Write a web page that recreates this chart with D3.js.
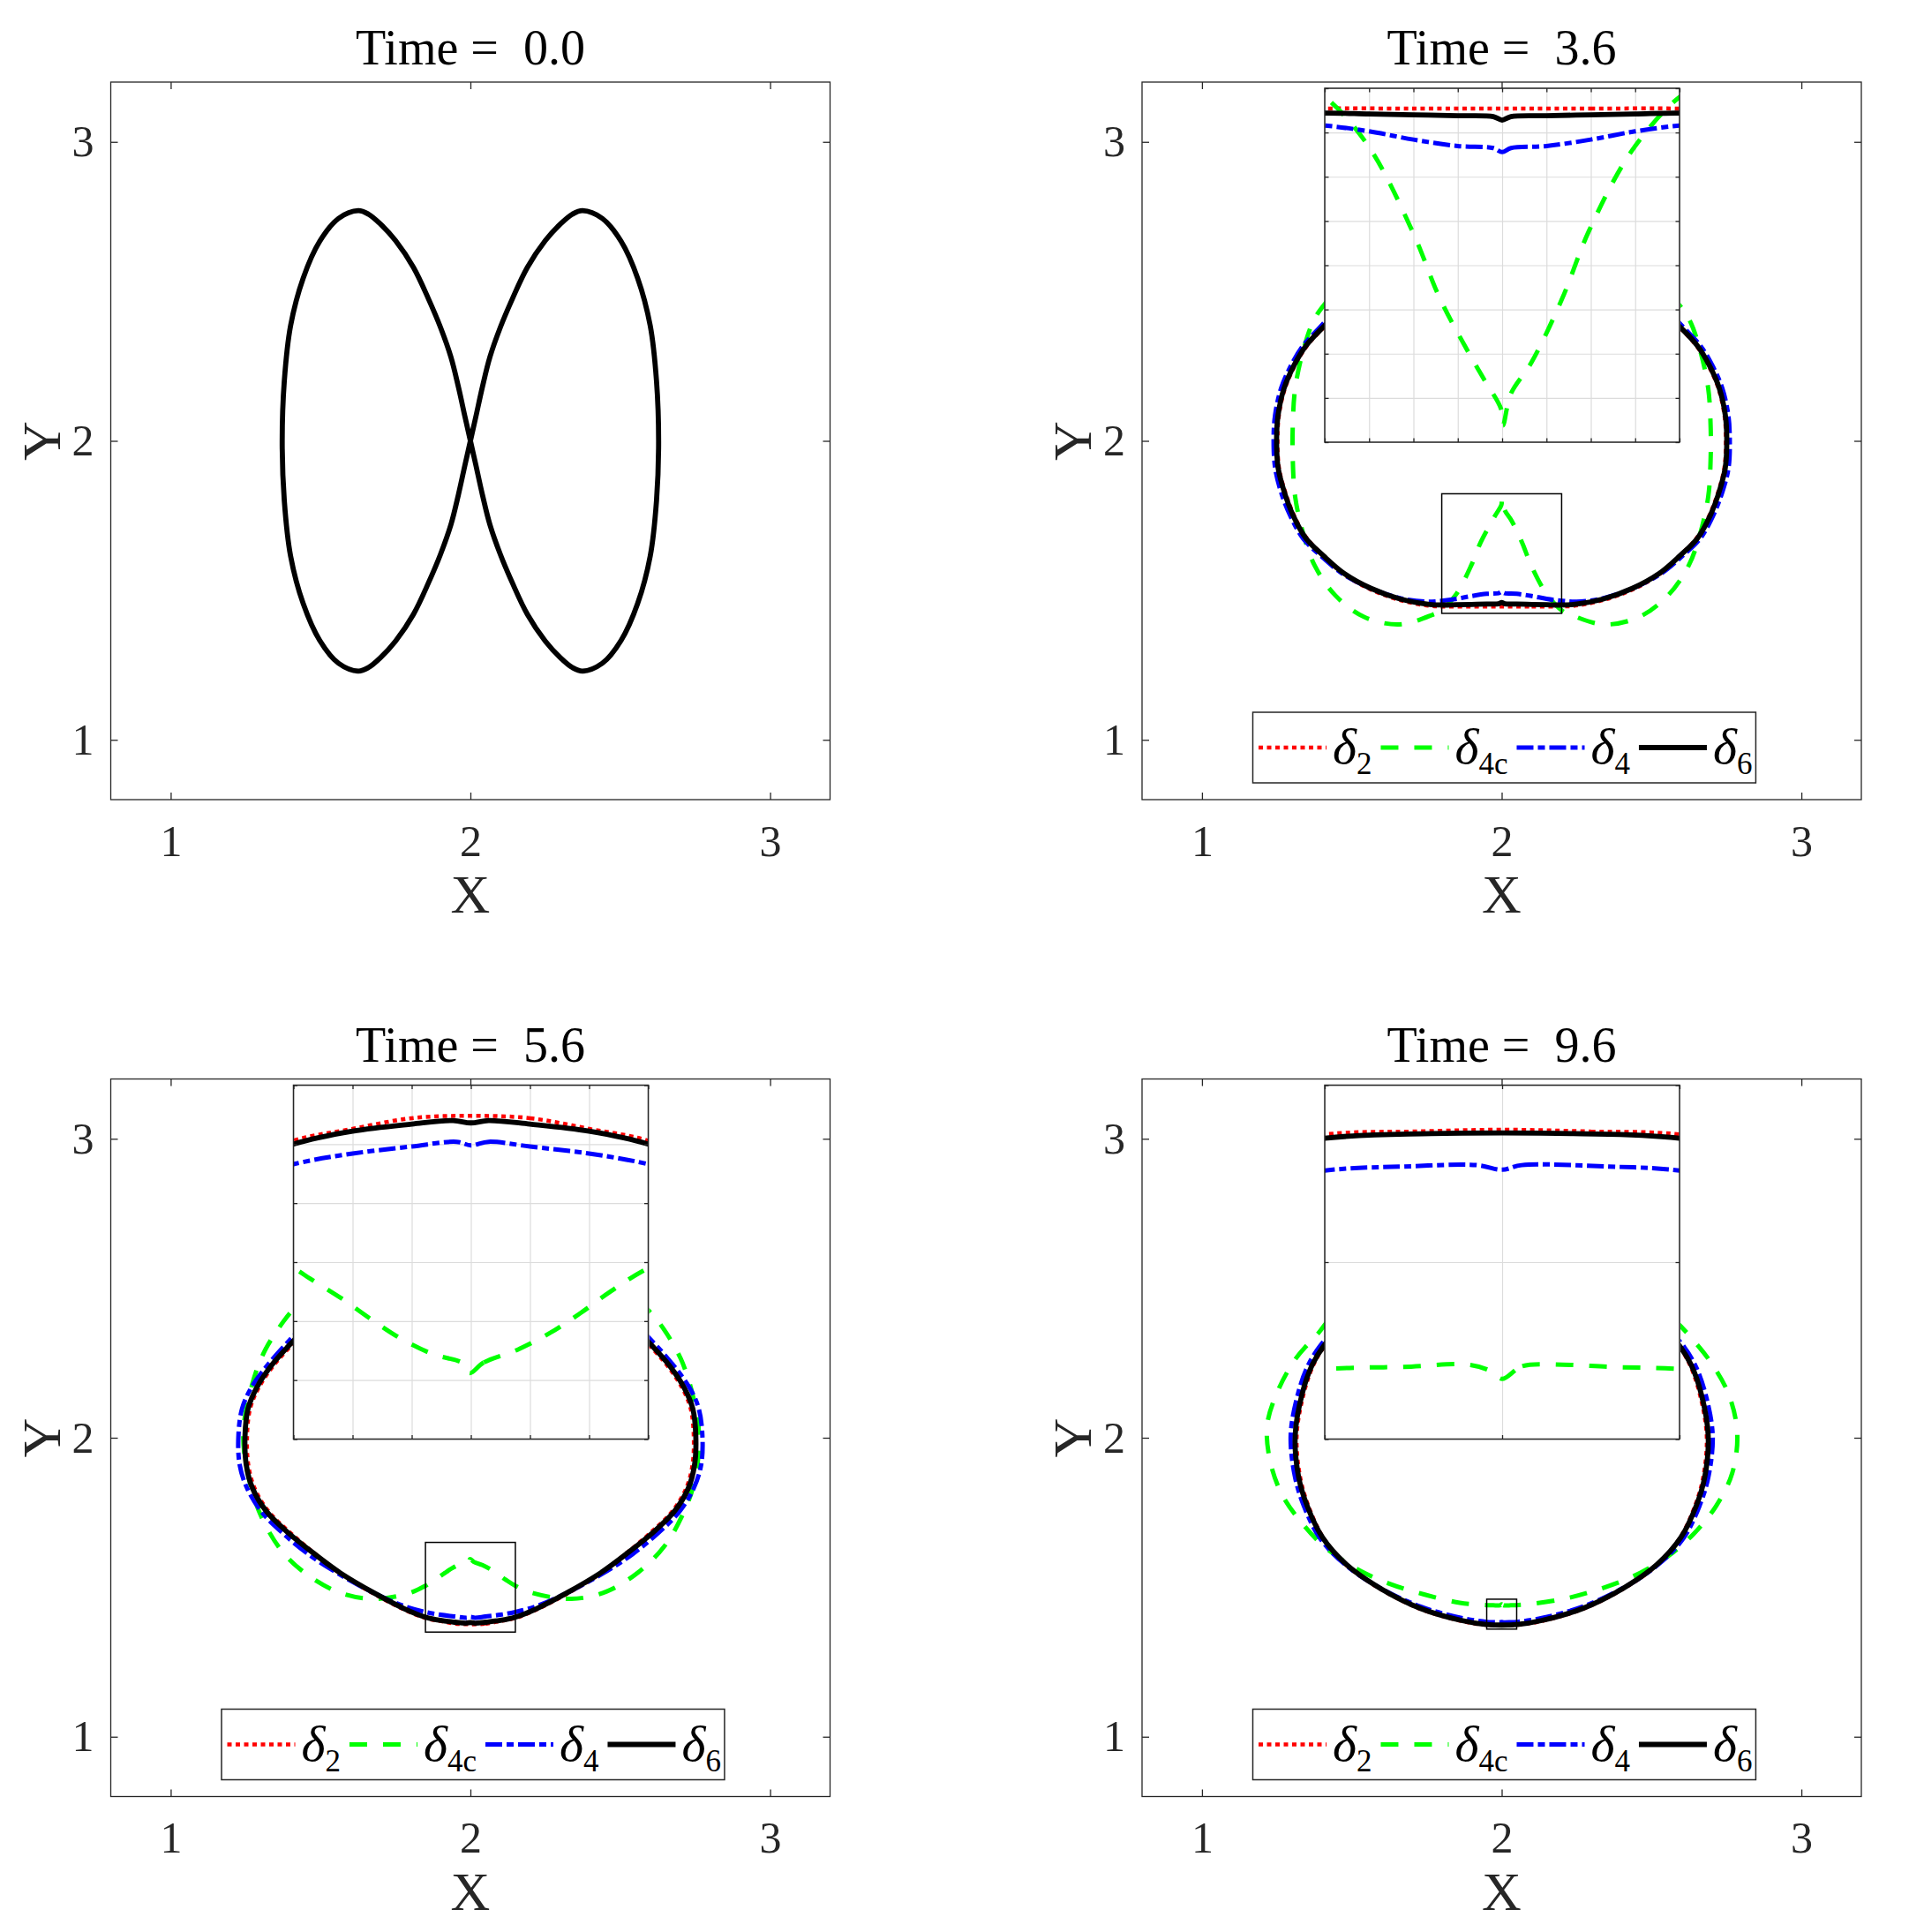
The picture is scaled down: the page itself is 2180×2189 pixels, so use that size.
<!DOCTYPE html>
<html>
<head>
<meta charset="utf-8">
<script src="https://cdn.jsdelivr.net/npm/d3@7"></script>
<style>
  body { margin: 0; background: #fff; }
  text { font-family: "Liberation Serif", "Times New Roman", serif; }
</style>
</head>
<body>
<div id="chart"></div>
<script>
var width = 2180, height = 2189;
var axW = 815, axH = 813;
var axLeft = [125.5, 1294, 125.5, 1294],
    axTop = [93, 93, 1222.5, 1222.5];

// axes
var xDomain = [0.8, 3.2], yDomain = [0.8, 3.2];
var tickValues = [1, 2, 3];
var times = ["0.0", "3.6", "5.6", "9.6"];

// series: delta_2, delta_4c, delta_4, delta_6
var seriesSubs = ["2", "4c", "4", "6"];
var seriesColors = ["#ff0000", "#00ff00", "#0000ff", "#000000"];
var seriesWidths = [4.5, 5, 5, 5.8];
var seriesDash = ["5,4.5", "20,18", "19,5,8,5", null];

// Time = 0.0, initial figure eight (left lobe, then right lobe)
var eightCurve = [[2.0,2.0],[1.982,2.08],[1.96,2.18],[1.935,2.28],[1.90,2.38],[1.86,2.475],[1.81,2.58],[1.75,2.67],[1.70,2.725],[1.66,2.758],[1.626,2.77],[1.560,2.744],[1.497,2.667],[1.442,2.544],[1.400,2.385],[1.379,2.199],[1.372,2.0],[1.379,1.801],[1.400,1.615],[1.442,1.456],[1.497,1.333],[1.560,1.256],[1.626,1.23],[1.66,1.242],[1.70,1.275],[1.75,1.33],[1.81,1.42],[1.86,1.525],[1.90,1.62],[1.935,1.72],[1.96,1.82],[1.982,1.92],
  [2.0,2.0],[2.018,2.08],[2.04,2.18],[2.065,2.28],[2.10,2.38],[2.14,2.475],[2.19,2.58],[2.25,2.67],[2.30,2.725],[2.34,2.758],[2.374,2.77],[2.440,2.744],[2.503,2.667],[2.558,2.544],[2.600,2.385],[2.621,2.199],[2.628,2.0],[2.621,1.801],[2.600,1.615],[2.558,1.456],[2.503,1.333],[2.440,1.256],[2.374,1.23],[2.34,1.242],[2.30,1.275],[2.25,1.33],[2.19,1.42],[2.14,1.525],[2.10,1.62],[2.065,1.72],[2.04,1.82],[2.018,1.92]];

// Time = 3.6
var red36 = [[2.0,1.446],[2.1,1.446],[2.2,1.446],[2.24,1.448],[2.338,1.467],[2.437,1.503],[2.525,1.553],[2.592,1.613],[2.650,1.674],[2.694,1.753],[2.723,1.831],[2.743,1.910],[2.748,2.008],[2.743,2.087],[2.723,2.176],[2.689,2.254],[2.650,2.318],[2.596,2.377],[2.5,2.47],[2.35,2.56],[2.2,2.61],[2.0,2.63],[1.8,2.61],[1.65,2.56],[1.5,2.47],[1.404,2.377],[1.350,2.318],[1.311,2.254],[1.277,2.176],[1.257,2.087],[1.252,2.008],[1.257,1.910],[1.277,1.831],[1.306,1.753],[1.350,1.674],[1.408,1.613],[1.475,1.553],[1.563,1.503],[1.662,1.467],[1.76,1.448],[1.8,1.446],[1.9,1.446]];
var green36 = [[2.001,1.804],[2.010,1.768],[2.033,1.733],[2.068,1.660],[2.098,1.584],[2.146,1.494],[2.2,1.433],[2.229,1.419],[2.341,1.386],[2.459,1.411],[2.555,1.483],[2.623,1.581],[2.662,1.689],[2.689,1.812],[2.697,1.935],[2.697,2.053],[2.689,2.176],[2.662,2.303],[2.626,2.405],[2.58,2.47],[2.48,2.57],[2.33,2.66],[2.17,2.71],[2.0,2.73],[1.83,2.71],[1.67,2.66],[1.52,2.57],[1.42,2.47],[1.374,2.405],[1.338,2.303],[1.311,2.176],[1.303,2.053],[1.303,1.935],[1.311,1.812],[1.338,1.689],[1.377,1.581],[1.445,1.483],[1.541,1.411],[1.659,1.386],[1.771,1.419],[1.8,1.433],[1.849,1.488],[1.899,1.585],[1.930,1.661],[1.959,1.716],[1.979,1.751],[1.999,1.786]];
var blue36 = [[2.0,1.495],[2.01,1.4906],[2.05,1.4883],[2.1,1.481],[2.15,1.4717],[2.2,1.4651],[2.25,1.462],[2.34,1.474],[2.44,1.508],[2.532,1.556],[2.603,1.615],[2.663,1.674],[2.707,1.753],[2.737,1.831],[2.757,1.910],[2.761,2.008],[2.756,2.087],[2.736,2.176],[2.702,2.254],[2.663,2.318],[2.609,2.377],[2.51,2.48],[2.36,2.57],[2.2,2.62],[2.0,2.64],[1.8,2.62],[1.64,2.57],[1.49,2.48],[1.391,2.377],[1.337,2.318],[1.298,2.254],[1.264,2.176],[1.244,2.087],[1.239,2.008],[1.244,1.910],[1.263,1.831],[1.293,1.753],[1.337,1.674],[1.397,1.615],[1.468,1.556],[1.56,1.508],[1.66,1.474],[1.75,1.462],[1.8,1.4651],[1.85,1.4717],[1.9,1.481],[1.95,1.4883],[1.99,1.4906]];
var black36 = [[2.0,1.459],[2.01,1.455],[2.05,1.454],[2.1,1.453],[2.15,1.452],[2.2,1.451],[2.24,1.453],[2.338,1.471],[2.437,1.507],[2.525,1.556],[2.594,1.615],[2.653,1.674],[2.697,1.753],[2.726,1.831],[2.746,1.910],[2.751,2.008],[2.746,2.087],[2.726,2.176],[2.692,2.254],[2.653,2.318],[2.599,2.377],[2.5,2.47],[2.35,2.56],[2.2,2.61],[2.0,2.63],[1.8,2.61],[1.65,2.56],[1.5,2.47],[1.401,2.377],[1.347,2.318],[1.308,2.254],[1.274,2.176],[1.254,2.087],[1.249,2.008],[1.254,1.910],[1.274,1.831],[1.303,1.753],[1.347,1.674],[1.406,1.615],[1.475,1.556],[1.563,1.507],[1.662,1.471],[1.76,1.453],[1.8,1.451],[1.85,1.452],[1.9,1.453],[1.95,1.454],[1.99,1.455]];

// Time = 5.6
var red56 = [[2.0,1.376],[2.05,1.378],[2.1,1.387],[2.15,1.397],[2.22,1.425],[2.32,1.477],[2.43,1.543],[2.52,1.613],[2.603,1.684],[2.673,1.753],[2.72,1.831],[2.741,1.910],[2.745,2.008],[2.735,2.097],[2.707,2.166],[2.655,2.244],[2.58,2.328],[2.5,2.42],[2.35,2.52],[2.2,2.57],[2.0,2.59],[1.8,2.57],[1.65,2.52],[1.5,2.42],[1.42,2.328],[1.345,2.244],[1.293,2.166],[1.265,2.097],[1.255,2.008],[1.259,1.910],[1.28,1.831],[1.327,1.753],[1.397,1.684],[1.48,1.613],[1.57,1.543],[1.68,1.477],[1.78,1.425],[1.85,1.397],[1.9,1.387],[1.95,1.378]];
var green56 = [[1.999,1.594],[2.011,1.585],[2.040,1.574],[2.067,1.560],[2.093,1.543],[2.118,1.525],[2.15,1.505],[2.21,1.480],[2.337,1.461],[2.455,1.486],[2.560,1.550],[2.644,1.633],[2.705,1.736],[2.747,1.851],[2.763,2.008],[2.741,2.146],[2.702,2.264],[2.644,2.365],[2.60,2.42],[2.5,2.51],[2.35,2.60],[2.2,2.65],[2.0,2.67],[1.8,2.65],[1.65,2.60],[1.5,2.51],[1.41,2.43],[1.377,2.390],[1.314,2.291],[1.272,2.179],[1.242,2.008],[1.270,1.827],[1.314,1.712],[1.380,1.610],[1.470,1.532],[1.575,1.478],[1.682,1.461],[1.795,1.480],[1.85,1.505],[1.864,1.514],[1.891,1.531],[1.915,1.548],[1.941,1.565],[1.968,1.578],[1.994,1.586]];
var blue56 = [[2.0,1.401],[2.015,1.398],[2.05,1.402],[2.1,1.408],[2.15,1.417],[2.23,1.44],[2.33,1.485],[2.44,1.545],[2.54,1.610],[2.625,1.680],[2.695,1.750],[2.745,1.831],[2.770,1.910],[2.774,2.008],[2.762,2.097],[2.732,2.166],[2.676,2.244],[2.60,2.33],[2.5,2.43],[2.35,2.53],[2.2,2.58],[2.0,2.60],[1.8,2.58],[1.65,2.53],[1.5,2.43],[1.40,2.33],[1.324,2.244],[1.268,2.166],[1.238,2.097],[1.226,2.008],[1.230,1.910],[1.255,1.831],[1.305,1.750],[1.375,1.680],[1.46,1.610],[1.56,1.545],[1.67,1.485],[1.77,1.44],[1.85,1.417],[1.9,1.408],[1.95,1.402],[1.988,1.398]];
var black56 = [[2.0,1.382],[2.015,1.380],[2.05,1.383],[2.1,1.389],[2.15,1.400],[2.22,1.428],[2.32,1.480],[2.43,1.545],[2.525,1.615],[2.61,1.684],[2.68,1.753],[2.727,1.831],[2.748,1.910],[2.752,2.008],[2.742,2.097],[2.714,2.166],[2.662,2.244],[2.587,2.328],[2.5,2.42],[2.35,2.52],[2.2,2.57],[2.0,2.59],[1.8,2.57],[1.65,2.52],[1.5,2.42],[1.413,2.328],[1.338,2.244],[1.286,2.166],[1.258,2.097],[1.248,2.008],[1.252,1.910],[1.273,1.831],[1.32,1.753],[1.39,1.684],[1.475,1.615],[1.57,1.545],[1.68,1.480],[1.78,1.428],[1.85,1.400],[1.9,1.389],[1.95,1.383],[1.985,1.380]];

// Time = 9.6
var red96 = [[2.0,1.3726],[2.025,1.3731],[2.05,1.3739],[2.134,1.387],[2.27,1.427],[2.406,1.495],[2.518,1.574],[2.595,1.665],[2.645,1.772],[2.673,1.871],[2.684,2.008],[2.661,2.146],[2.628,2.244],[2.588,2.311],[2.5,2.41],[2.35,2.50],[2.2,2.55],[2.0,2.57],[1.8,2.55],[1.65,2.50],[1.5,2.41],[1.412,2.311],[1.372,2.244],[1.339,2.146],[1.316,2.008],[1.327,1.871],[1.355,1.772],[1.405,1.665],[1.482,1.574],[1.594,1.495],[1.73,1.427],[1.866,1.387],[1.95,1.3739],[1.975,1.3731]];
var green96 = [[2.0,1.443],[2.0057,1.4394],[2.0171,1.439],[2.0303,1.4396],[2.05,1.4402],[2.098,1.444],[2.217,1.463],[2.330,1.495],[2.446,1.540],[2.551,1.601],[2.639,1.677],[2.715,1.771],[2.769,1.881],[2.786,2.016],[2.757,2.146],[2.698,2.252],[2.625,2.343],[2.58,2.39],[2.45,2.50],[2.3,2.58],[2.15,2.62],[2.0,2.63],[1.85,2.62],[1.7,2.58],[1.55,2.50],[1.42,2.39],[1.390,2.352],[1.314,2.266],[1.255,2.161],[1.218,2.046],[1.226,1.928],[1.266,1.812],[1.334,1.714],[1.415,1.630],[1.517,1.561],[1.625,1.512],[1.741,1.476],[1.860,1.448],[1.95,1.4402],[1.9722,1.4396],[1.9905,1.439],[1.9971,1.4409]];
var blue96 = [[2.0,1.3839],[2.0055,1.3826],[2.03,1.383],[2.05,1.3841],[2.134,1.397],[2.27,1.435],[2.41,1.500],[2.525,1.578],[2.607,1.665],[2.66,1.772],[2.69,1.871],[2.704,2.008],[2.68,2.146],[2.645,2.244],[2.60,2.315],[2.5,2.42],[2.35,2.51],[2.2,2.56],[2.0,2.58],[1.8,2.56],[1.65,2.51],[1.5,2.42],[1.40,2.315],[1.355,2.244],[1.32,2.146],[1.296,2.008],[1.31,1.871],[1.34,1.772],[1.393,1.665],[1.475,1.578],[1.59,1.500],[1.73,1.435],[1.866,1.397],[1.95,1.3841],[1.9722,1.383],[1.993,1.3826]];
var black96 = [[2.0,1.3735],[2.02,1.3737],[2.05,1.375],[2.134,1.389],[2.27,1.429],[2.406,1.497],[2.518,1.576],[2.597,1.665],[2.649,1.772],[2.678,1.871],[2.689,2.008],[2.666,2.146],[2.632,2.244],[2.591,2.311],[2.5,2.41],[2.35,2.50],[2.2,2.55],[2.0,2.57],[1.8,2.55],[1.65,2.50],[1.5,2.41],[1.409,2.311],[1.368,2.244],[1.334,2.146],[1.311,2.008],[1.322,1.871],[1.351,1.772],[1.403,1.665],[1.482,1.576],[1.594,1.497],[1.73,1.429],[1.866,1.389],[1.95,1.375],[1.98,1.3737]];

// zoom boxes and the grid of their insets
var zoomX36 = [1.8, 2.2], zoomY36 = [1.423, 1.823];
var gridX36 = [1.8, 1.85, 1.9, 1.95, 2.0, 2.05, 2.1, 2.15, 2.2];
var gridY36 = [1.423, 1.473, 1.523, 1.573, 1.623, 1.673, 1.723, 1.773, 1.823];
var zoomX56 = [1.85, 2.15], zoomY56 = [1.35, 1.65];
var gridX56 = [1.85, 1.9, 1.95, 2.0, 2.05, 2.1, 2.15];
var gridY56 = [1.35, 1.4, 1.45, 1.5, 1.55, 1.6, 1.65];
var zoomX96 = [1.95, 2.05], zoomY96 = [1.36, 1.46];
var gridX96 = [1.95, 2.0, 2.05];
var gridY96 = [1.36, 1.41, 1.46];

var panels = [
  {curves: [eightCurve], styles: [3]},
  {curves: [red36, green36, blue36, black36], styles: [0, 1, 2, 3], zx: zoomX36, zy: zoomY36, gx: gridX36, gy: gridY36},
  {curves: [red56, green56, blue56, black56], styles: [0, 1, 2, 3], zx: zoomX56, zy: zoomY56, gx: gridX56, gy: gridY56},
  {curves: [red96, green96, blue96, black96], styles: [0, 1, 2, 3], zx: zoomX96, zy: zoomY96, gx: gridX96, gy: gridY96}
];

var insetPos = [207, 7], insetW = 402, insetH = 401;
var legendPos = [125.5, 714], legendH = 80;
var axisColor = "#262626";

var svg = d3.select("#chart").append("svg")
    .attr("width", width)
    .attr("height", height);

var x = d3.scaleLinear().domain(xDomain).range([0, axW]);
var y = d3.scaleLinear().domain(yDomain).range([axH, 0]);

function styleAxis(g, size){
  g.select(".domain").remove();
  g.selectAll(".tick line").attr("stroke", axisColor).attr("stroke-width", 1.3);
  g.selectAll("text")
    .attr("fill", axisColor)
    .style("font-family", "'Liberation Serif', 'Times New Roman', serif")
    .style("font-size", size + "px");
}

function drawCurves(g, curves, styles, sx, sy){
  var line = d3.line()
      .x(function(d){ return sx(d[0]); })
      .y(function(d){ return sy(d[1]); })
      .curve(d3.curveCatmullRomClosed.alpha(0.5));
  curves.forEach(function(c, k){
    var s = styles[k];
    g.append("path")
      .attr("d", line(c))
      .attr("fill", "none")
      .attr("stroke", seriesColors[s])
      .attr("stroke-width", seriesWidths[s])
      .attr("stroke-dasharray", seriesDash[s])
      .attr("stroke-linejoin", "round");
  });
}

function drawInset(g, p, i){
  var ix = d3.scaleLinear().domain(p.zx).range([0, insetW]);
  // y runs downward in the inset, as in the original figure
  var iy = d3.scaleLinear().domain(p.zy).range([0, insetH]);

  var ig = g.append("g").attr("transform", "translate(" + insetPos[0] + "," + insetPos[1] + ")");
  ig.append("rect").attr("width", insetW).attr("height", insetH).attr("fill", "#fff");

  ig.append("clipPath").attr("id", "inclip" + i)
    .append("rect").attr("width", insetW).attr("height", insetH);

  //grid
  var gxg = ig.append("g").call(d3.axisBottom(ix).tickValues(p.gx).tickSize(insetH).tickFormat(""));
  gxg.select(".domain").remove();
  gxg.selectAll(".tick line").attr("stroke", "#dcdcdc").attr("stroke-width", 1.2);
  var gyg = ig.append("g").call(d3.axisRight(iy).tickValues(p.gy).tickSize(insetW).tickFormat(""));
  gyg.select(".domain").remove();
  gyg.selectAll(".tick line").attr("stroke", "#dcdcdc").attr("stroke-width", 1.2);

  var cg = ig.append("g").attr("clip-path", "url(#inclip" + i + ")");
  drawCurves(cg, p.curves, p.styles, ix, iy);

  // small inward ticks on all four sides
  styleAxis(ig.append("g").attr("transform", "translate(0," + insetH + ")")
    .call(d3.axisBottom(ix).tickValues(p.gx).tickSize(-4.5).tickFormat("")), 10);
  styleAxis(ig.append("g")
    .call(d3.axisTop(ix).tickValues(p.gx).tickSize(-4.5).tickFormat("")), 10);
  styleAxis(ig.append("g")
    .call(d3.axisLeft(iy).tickValues(p.gy).tickSize(-4.5).tickFormat("")), 10);
  styleAxis(ig.append("g").attr("transform", "translate(" + insetW + ",0)")
    .call(d3.axisRight(iy).tickValues(p.gy).tickSize(-4.5).tickFormat("")), 10);

  ig.append("rect").attr("width", insetW).attr("height", insetH)
    .attr("fill", "none").attr("stroke", axisColor).attr("stroke-width", 1.5);
}

function drawLegend(g){
  var lg = g.append("g").attr("transform", "translate(" + legendPos[0] + "," + legendPos[1] + ")");
  var box = lg.append("rect").attr("height", legendH).attr("fill", "#fff")
    .attr("stroke", axisColor).attr("stroke-width", 1.5);
  var lx = 6.5;
  seriesSubs.forEach(function(s, k){
    lg.append("line")
      .attr("x1", lx).attr("x2", lx + 77)
      .attr("y1", 40).attr("y2", 40)
      .attr("stroke", seriesColors[k])
      .attr("stroke-width", seriesWidths[k])
      .attr("stroke-dasharray", seriesDash[k]);
    var t = lg.append("text").attr("x", lx + 84).attr("y", 58).attr("fill", "#000");
    t.append("tspan").style("font-style", "italic").style("font-size", "58px").text("δ");
    t.append("tspan").attr("dy", 12).style("font-size", "35px").text(s);
    lx = lx + 84 + t.node().getComputedTextLength() + 10;
  });
  box.attr("width", lx - 6);
}

panels.forEach(function(p, i){
  var g = svg.append("g").attr("transform", "translate(" + axLeft[i] + "," + axTop[i] + ")");

  g.append("rect").attr("width", axW).attr("height", axH).attr("fill", "#fff");

  // ticks inside the box, labels only bottom and left
  styleAxis(g.append("g").attr("transform", "translate(0," + axH + ")")
    .call(d3.axisBottom(x).tickValues(tickValues).tickSize(-8).tickPadding(28).tickFormat(d3.format("d"))), 50);
  styleAxis(g.append("g")
    .call(d3.axisTop(x).tickValues(tickValues).tickSize(-8).tickFormat("")), 50);
  styleAxis(g.append("g")
    .call(d3.axisLeft(y).tickValues(tickValues).tickSize(-8).tickPadding(19).tickFormat(d3.format("d"))), 50);
  styleAxis(g.append("g").attr("transform", "translate(" + axW + ",0)")
    .call(d3.axisRight(y).tickValues(tickValues).tickSize(-8).tickFormat("")), 50);

  g.append("clipPath").attr("id", "clip" + i)
    .append("rect").attr("width", axW).attr("height", axH);
  var cg = g.append("g").attr("clip-path", "url(#clip" + i + ")");
  drawCurves(cg, p.curves, p.styles, x, y);

  if (p.zx) {
    g.append("rect")
      .attr("x", x(p.zx[0])).attr("y", y(p.zy[1]))
      .attr("width", x(p.zx[1]) - x(p.zx[0]))
      .attr("height", y(p.zy[0]) - y(p.zy[1]))
      .attr("fill", "none").attr("stroke", "#000").attr("stroke-width", 1.5);
    drawInset(g, p, i);
    drawLegend(g);
  }

  g.append("rect").attr("width", axW).attr("height", axH)
    .attr("fill", "none").attr("stroke", axisColor).attr("stroke-width", 1.3);

  // title and labels
  g.append("text")
    .attr("x", axW / 2).attr("y", -20)
    .attr("text-anchor", "middle")
    .attr("xml:space", "preserve")
    .style("white-space", "pre")
    .style("font-size", "56px")
    .attr("fill", "#000")
    .text("Time =  " + times[i]);
  g.append("text")
    .attr("x", axW / 2).attr("y", axH + 128)
    .attr("text-anchor", "middle")
    .style("font-size", "62px")
    .attr("fill", axisColor)
    .text("X");
  g.append("text")
    .attr("transform", "translate(-58," + (axH / 2) + ") rotate(-90)")
    .attr("text-anchor", "middle")
    .style("font-size", "62px")
    .attr("fill", axisColor)
    .text("Y");
});
</script>
</body>
</html>
